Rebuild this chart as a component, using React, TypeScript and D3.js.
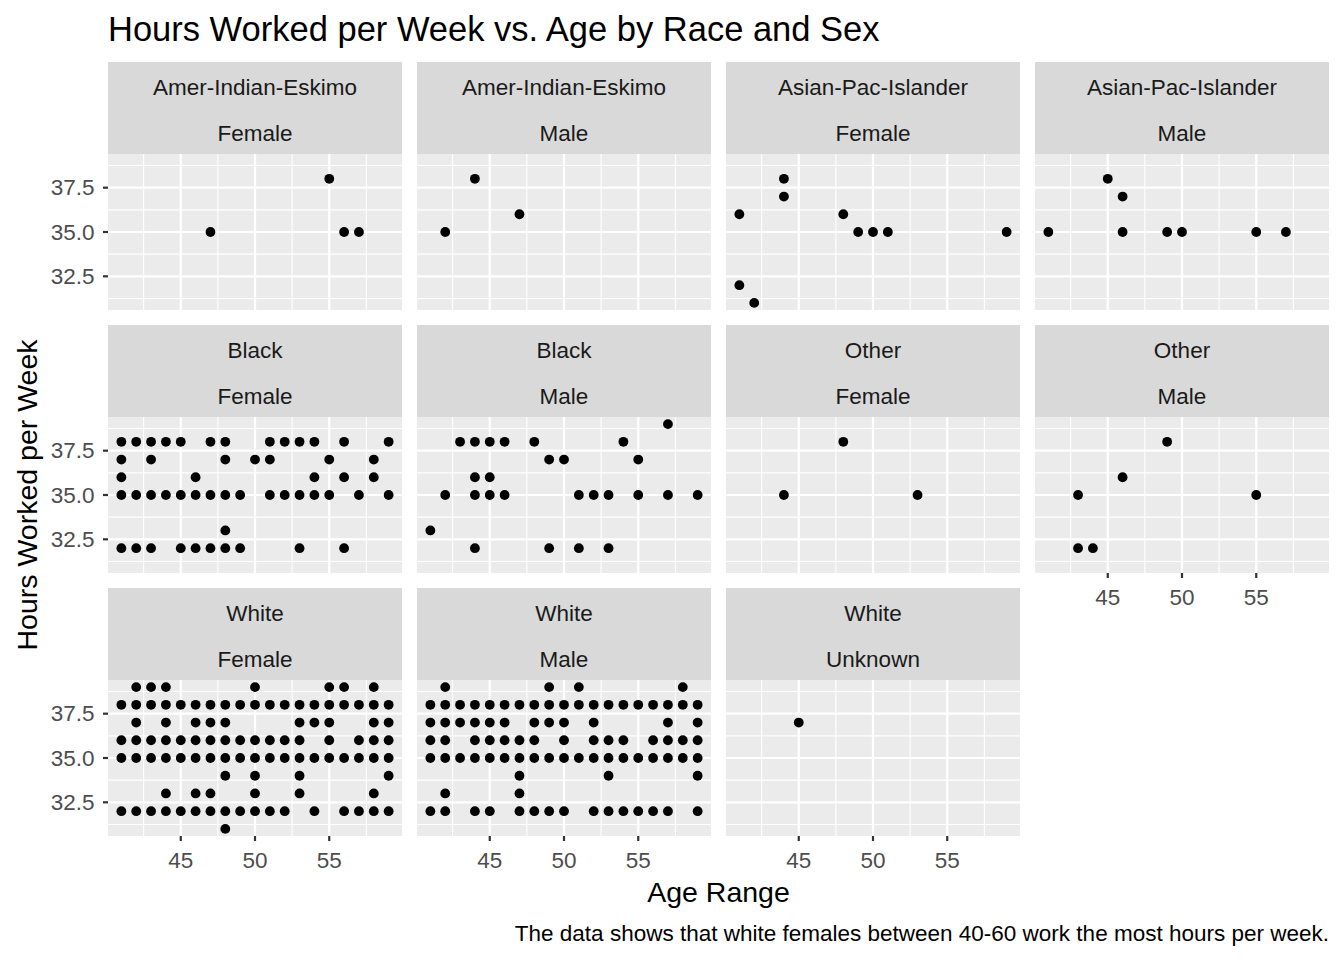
import React from "react";
import * as d3 from "d3";

// each facet: rows of [hours, ages observed at that hours value]
type Row = [number, number[]];

const amerIndianFemale: Row[] = [[38, [55]], [35, [47, 56, 57]]];
const amerIndianMale: Row[] = [[38, [44]], [36, [47]], [35, [42]]];
const asianFemale: Row[] = [
  [38, [44]], [37, [44]], [36, [41, 48]], [35, [49, 50, 51, 59]], [32, [41]], [31, [42]],
];
const asianMale: Row[] = [[38, [45]], [37, [46]], [35, [41, 46, 49, 50, 55, 57]]];
const blackFemale: Row[] = [
  [38, [41, 42, 43, 44, 45, 47, 48, 51, 52, 53, 54, 56, 59]],
  [37, [41, 43, 48, 50, 51, 55, 58]],
  [36, [41, 46, 54, 56, 58]],
  [35, [41, 42, 43, 44, 45, 46, 47, 48, 49, 51, 52, 53, 54, 55, 57, 59]],
  [33, [48]],
  [32, [41, 42, 43, 45, 46, 47, 48, 49, 53, 56]],
];
const blackMale: Row[] = [
  [39, [57]],
  [38, [43, 44, 45, 46, 48, 54]],
  [37, [49, 50, 55]],
  [36, [44, 45]],
  [35, [42, 44, 45, 46, 51, 52, 53, 55, 57, 59]],
  [33, [41]],
  [32, [44, 49, 51, 53]],
];
const otherFemale: Row[] = [[38, [48]], [35, [44, 53]]];
const otherMale: Row[] = [[38, [49]], [36, [46]], [35, [43, 55]], [32, [43, 44]]];
const whiteFemale: Row[] = [
  [39, [42, 43, 44, 50, 55, 56, 58]],
  [38, [41, 42, 43, 44, 45, 46, 47, 48, 49, 50, 51, 52, 53, 54, 55, 56, 57, 58, 59]],
  [37, [42, 44, 46, 47, 48, 53, 54, 55, 58, 59]],
  [36, [41, 42, 43, 44, 45, 46, 47, 48, 49, 50, 51, 52, 53, 55, 57, 58, 59]],
  [35, [41, 42, 43, 44, 45, 46, 47, 48, 49, 50, 51, 52, 53, 54, 55, 56, 57, 58, 59]],
  [34, [48, 50, 53, 59]],
  [33, [44, 46, 47, 50, 53, 58]],
  [32, [41, 42, 43, 44, 45, 46, 47, 48, 49, 50, 51, 52, 54, 56, 57, 58, 59]],
  [31, [48]],
];
const whiteMale: Row[] = [
  [39, [42, 49, 51, 58]],
  [38, [41, 42, 43, 44, 45, 46, 47, 48, 49, 50, 51, 52, 53, 54, 55, 56, 57, 58, 59]],
  [37, [41, 42, 43, 44, 45, 46, 48, 49, 50, 52, 57, 59]],
  [36, [41, 42, 44, 45, 46, 47, 48, 50, 52, 53, 54, 56, 57, 58, 59]],
  [35, [41, 42, 43, 44, 45, 46, 47, 48, 49, 50, 51, 52, 53, 54, 55, 56, 57, 58, 59]],
  [34, [47, 53, 59]],
  [33, [42, 47]],
  [32, [41, 42, 44, 45, 47, 48, 49, 50, 52, 53, 54, 55, 56, 57, 59]],
];
const whiteUnknown: Row[] = [[37, [45]]];

const races = [
  "Amer-Indian-Eskimo", "Amer-Indian-Eskimo", "Asian-Pac-Islander", "Asian-Pac-Islander",
  "Black", "Black", "Other", "Other",
  "White", "White", "White",
];
const sexes = ["Female", "Male", "Female", "Male", "Female", "Male", "Female", "Male", "Female", "Male", "Unknown"];
const facetRows = [
  amerIndianFemale, amerIndianMale, asianFemale, asianMale,
  blackFemale, blackMale, otherFemale, otherMale,
  whiteFemale, whiteMale, whiteUnknown,
];

const xTicks = [45, 50, 55];
const yTicks = [32.5, 35.0, 37.5];

const title = "Hours Worked per Week vs. Age by Race and Sex";
const xTitle = "Age Range";
const yTitle = "Hours Worked per Week";
const caption = "The data shows that white females between 40-60 work the most hours per week.";

const FONT = "'Liberation Sans', Arial, sans-serif";
const nCols = 4;
const left = 108;
const top = 62;
const panelW = 294;
const panelH = 156;
const stripH = 92;
const gap = 15;

export default function App() {
  const points = facetRows.flatMap((rows) => rows.flatMap(([h, ages]) => ages.map((a) => [a, h])));
  const [x0, x1] = d3.extent(points, (d) => d[0]) as [number, number];
  const [y0, y1] = d3.extent(points, (d) => d[1]) as [number, number];
  const xPad = (x1 - x0) * 0.05;
  const yPad = (y1 - y0) * 0.05;
  const x = d3.scaleLinear().domain([x0 - xPad, x1 + xPad]).range([0, panelW]);
  const y = d3.scaleLinear().domain([y0 - yPad, y1 + yPad]).range([panelH, 0]);

  const xStep = xTicks[1] - xTicks[0];
  const yStep = yTicks[1] - yTicks[0];
  const inX = (v: number) => v >= x.domain()[0] && v <= x.domain()[1];
  const inY = (v: number) => v >= y.domain()[0] && v <= y.domain()[1];
  const xMinor = [xTicks[0] - xStep / 2, ...xTicks.map((t) => t + xStep / 2)].filter(inX);
  const yMinor = [yTicks[0] - yStep / 2, ...yTicks.map((t) => t + yStep / 2)].filter(inY);

  const n = facetRows.length;
  const nRows = Math.ceil(n / nCols);

  return (
    <svg
      width={1344}
      height={960}
      style={{ position: "absolute", left: 0, top: 0, background: "#fff" }}
      fontFamily={FONT}
    >
      <text x={left} y={41} fontSize={34.5} fill="#000">{title}</text>

      {facetRows.map((rows, i) => {
        const col = i % nCols;
        const row = Math.floor(i / nCols);
        const sx = left + col * (panelW + gap);
        const sy = top + row * (stripH + panelH + gap);
        const py = sy + stripH;
        const showX = i + nCols >= n;
        const showY = col === 0;
        return (
          <g key={i}>
            <rect x={sx} y={sy} width={panelW} height={stripH} fill="#D9D9D9" />
            <text x={sx + panelW / 2} y={sy + 25} fontSize={22.5} fill="#1A1A1A" textAnchor="middle" dominantBaseline="central">
              {races[i]}
            </text>
            <text x={sx + panelW / 2} y={sy + 71} fontSize={22.5} fill="#1A1A1A" textAnchor="middle" dominantBaseline="central">
              {sexes[i]}
            </text>
            <g transform={`translate(${sx},${py})`}>
              <rect width={panelW} height={panelH} fill="#EBEBEB" />
              {xMinor.map((v) => (
                <line key={"xm" + v} x1={x(v)} x2={x(v)} y1={0} y2={panelH} stroke="#fff" strokeWidth={1.1} />
              ))}
              {yMinor.map((v) => (
                <line key={"ym" + v} x1={0} x2={panelW} y1={y(v)} y2={y(v)} stroke="#fff" strokeWidth={1.1} />
              ))}
              {xTicks.map((v) => (
                <line key={"xM" + v} x1={x(v)} x2={x(v)} y1={0} y2={panelH} stroke="#fff" strokeWidth={2.2} />
              ))}
              {yTicks.map((v) => (
                <line key={"yM" + v} x1={0} x2={panelW} y1={y(v)} y2={y(v)} stroke="#fff" strokeWidth={2.2} />
              ))}
              {rows.flatMap(([h, ages]) =>
                ages.map((a) => <circle key={a + "-" + h} cx={x(a)} cy={y(h)} r={4.9} fill="#000" />)
              )}
              {showX &&
                xTicks.map((v) => (
                  <g key={"xt" + v} transform={`translate(${x(v)},${panelH})`}>
                    <line y1={0} y2={5} stroke="#333" strokeWidth={2.2} />
                    <text y={24} fontSize={22.5} fill="#4D4D4D" textAnchor="middle" dominantBaseline="central">
                      {v}
                    </text>
                  </g>
                ))}
              {showY &&
                yTicks.map((v) => (
                  <g key={"yt" + v} transform={`translate(0,${y(v)})`}>
                    <line x1={-5} x2={0} stroke="#333" strokeWidth={2.2} />
                    <text x={-13.5} fontSize={22.5} fill="#4D4D4D" textAnchor="end" dominantBaseline="central">
                      {v.toFixed(1)}
                    </text>
                  </g>
                ))}
            </g>
          </g>
        );
      })}

      <text
        x={left + (nCols * panelW + (nCols - 1) * gap) / 2}
        y={top + nRows * (stripH + panelH) + (nRows - 1) * gap + 56}
        fontSize={28.5}
        fill="#000"
        textAnchor="middle"
        dominantBaseline="central"
      >
        {xTitle}
      </text>
      <text
        transform={`translate(27,${top + stripH + (nRows * (stripH + panelH) + (nRows - 1) * gap - stripH) / 2}) rotate(-90)`}
        fontSize={28.5}
        fill="#000"
        textAnchor="middle"
        dominantBaseline="central"
      >
        {yTitle}
      </text>
      <text x={left + nCols * panelW + (nCols - 1) * gap} y={941} fontSize={22.5} fill="#000" textAnchor="end">
        {caption}
      </text>
    </svg>
  );
}
